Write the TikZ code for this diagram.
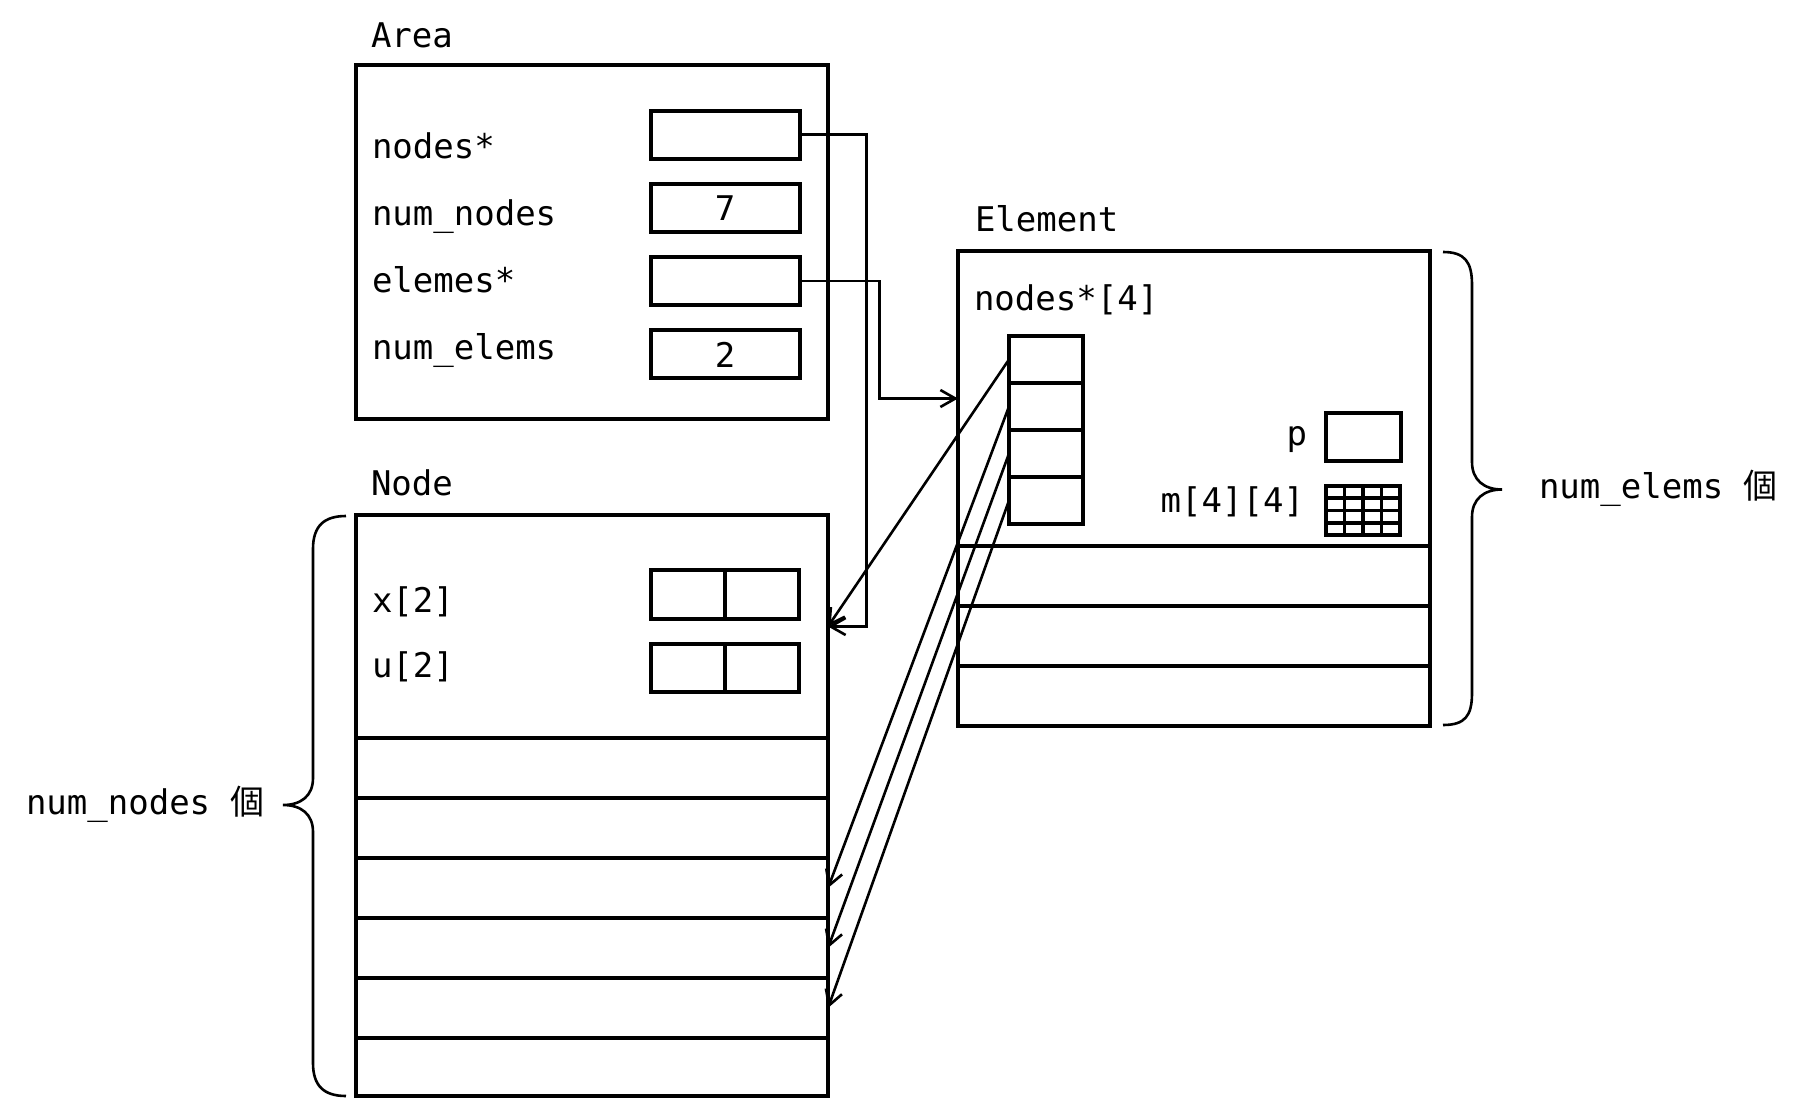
\documentclass[tikz,border=0pt]{standalone}
\usepackage{fontspec}
\setmainfont{DejaVu Sans Mono}
\newfontfamily\cjk{Noto Sans CJK JP}
\usetikzlibrary{arrows.meta,calc}
\begin{document}
\begin{tikzpicture}[x=0.5pt,y=-0.5pt,
  box/.style={draw,line width=2pt,inner sep=0pt,outer sep=0pt},
  lbl/.style={inner sep=0pt,outer sep=0pt,font=\fontsize{17}{20}\selectfont},
  conn/.style={line width=1.3pt,-{Straight Barb[length=7.5pt,width=8.5pt,line width=1.3pt]}},
  bracepath/.style={line width=1.3pt}]
\useasboundingbox (0,0) rectangle (1806,1098);

% ---------- Area ----------
\node[lbl,anchor=base west] (areat) at (371,47) {Area};
\node[box,minimum width=236pt,minimum height=177pt] (area) at (592,242) {};
\node[lbl,anchor=base west] (l1) at (372,158) {nodes*};
\node[lbl,anchor=base west] (l2) at (372,225) {num\_nodes};
\node[lbl,anchor=base west] (l3) at (372,292) {elemes*};
\node[lbl,anchor=base west] (l4) at (372,359) {num\_elems};
\node[box,minimum width=74.5pt,minimum height=24pt] (fnodes) at (725,134.5) {};
\node[box,minimum width=74.5pt,minimum height=24pt] (fnum) at (725,207.5) {};
\node[box,minimum width=74.5pt,minimum height=24pt] (felems) at (725,281) {};
\node[box,minimum width=74.5pt,minimum height=24pt] (fnume) at (725,354) {};
\node[lbl,anchor=base] (v7) at (725,220) {7};
\node[lbl,anchor=base] (v2) at (725,367) {2};

% ---------- Node ----------
\node[lbl,anchor=base west] (nodet) at (371,495) {Node};
\node[box,minimum width=236pt,minimum height=111.5pt] (nhead) at (592,626.5) {};
\foreach \i/\y in {1/768,2/828,3/888,4/948,5/1008}
  \node[box,minimum width=236pt,minimum height=30pt] (nrow\i) at (592,\y) {};
\node[box,minimum width=236pt,minimum height=29pt] (nrow6) at (592,1067) {};
\node[lbl,anchor=base west] (lx) at (372,612) {x[2]};
\node[lbl,anchor=base west] (lu) at (372,677) {u[2]};
\node[box,minimum width=37pt,minimum height=24.5pt] (x1) at (688,594.5) {};
\node[box,minimum width=37pt,minimum height=24.5pt] (x2) at (762,594.5) {};
\node[box,minimum width=37pt,minimum height=24pt] (u1) at (688,668) {};
\node[box,minimum width=37pt,minimum height=24pt] (u2) at (762,668) {};

% ---------- Element ----------
\node[lbl,anchor=base west] (elemt) at (975,231) {Element};
\node[box,minimum width=236pt,minimum height=147.5pt] (ehead) at (1194,398.5) {};
\foreach \i/\y in {1/576,2/636,3/696}
  \node[box,minimum width=236pt,minimum height=30pt] (erow\i) at (1194,\y) {};
\node[lbl,anchor=base west] (lnd) at (974,310) {nodes*[4]};
\foreach \i/\y in {1/359.5,2/406.5,3/453.5,4/500.5}
  \node[box,minimum width=37pt,minimum height=23.5pt] (c\i) at (1046,\y) {};
\node[lbl,anchor=base east] (lp) at (1307,445) {p};
\node[box,minimum width=37.5pt,minimum height=24pt] (pbox) at (1363.5,437) {};
\node[lbl,anchor=base east] (lm) at (1304,512) {m[4][4]};
\node[box,minimum width=37pt,minimum height=24.5pt] (mbox) at (1363,510.5) {};
\foreach \i in {1,2,3}{
  \draw[line width=1.8pt] ($(mbox.north west)!\i/4!(mbox.north east)$) -- ($(mbox.south west)!\i/4!(mbox.south east)$);
  \draw[line width=1.8pt] ($(mbox.north west)!\i/4!(mbox.south west)$) -- ($(mbox.north east)!\i/4!(mbox.south east)$);
}

% ---------- braces ----------
\draw[bracepath] (1443,252) .. controls (1465,252) and (1472,262) .. (1472,285)
  -- (1472,462) .. controls (1472,480) and (1484,489.5) .. (1502,489.5)
  .. controls (1484,489.5) and (1472,499) .. (1472,517)
  -- (1472,693) .. controls (1472,716) and (1465,725) .. (1443,725);
\node[lbl,anchor=base west] (ne) at (1539,498) {num\_elems {\cjk 個}};

\draw[bracepath] (346,516) .. controls (324,516) and (313,526) .. (313,549)
  -- (313,778) .. controls (313,796) and (301,805) .. (283,805)
  .. controls (301,805) and (313,814) .. (313,832)
  -- (313,1063) .. controls (313,1086) and (324,1096) .. (346,1096);
\node[lbl,anchor=base west] (nn) at (26,814) {num\_nodes {\cjk 個}};

% ---------- connectors ----------
\draw[conn] (fnodes.east) -- ++(67,0) |- (nhead.east);
\draw[conn] (felems.east) -- ++(80,0) |- (ehead.west);
\draw[conn] (c1.west) -- (nhead.east);
\draw[conn] (c2.west) -- (nrow3.east);
\draw[conn] (c3.west) -- (nrow4.east);
\draw[conn] (c4.west) -- (nrow5.east);
\end{tikzpicture}
\end{document}
